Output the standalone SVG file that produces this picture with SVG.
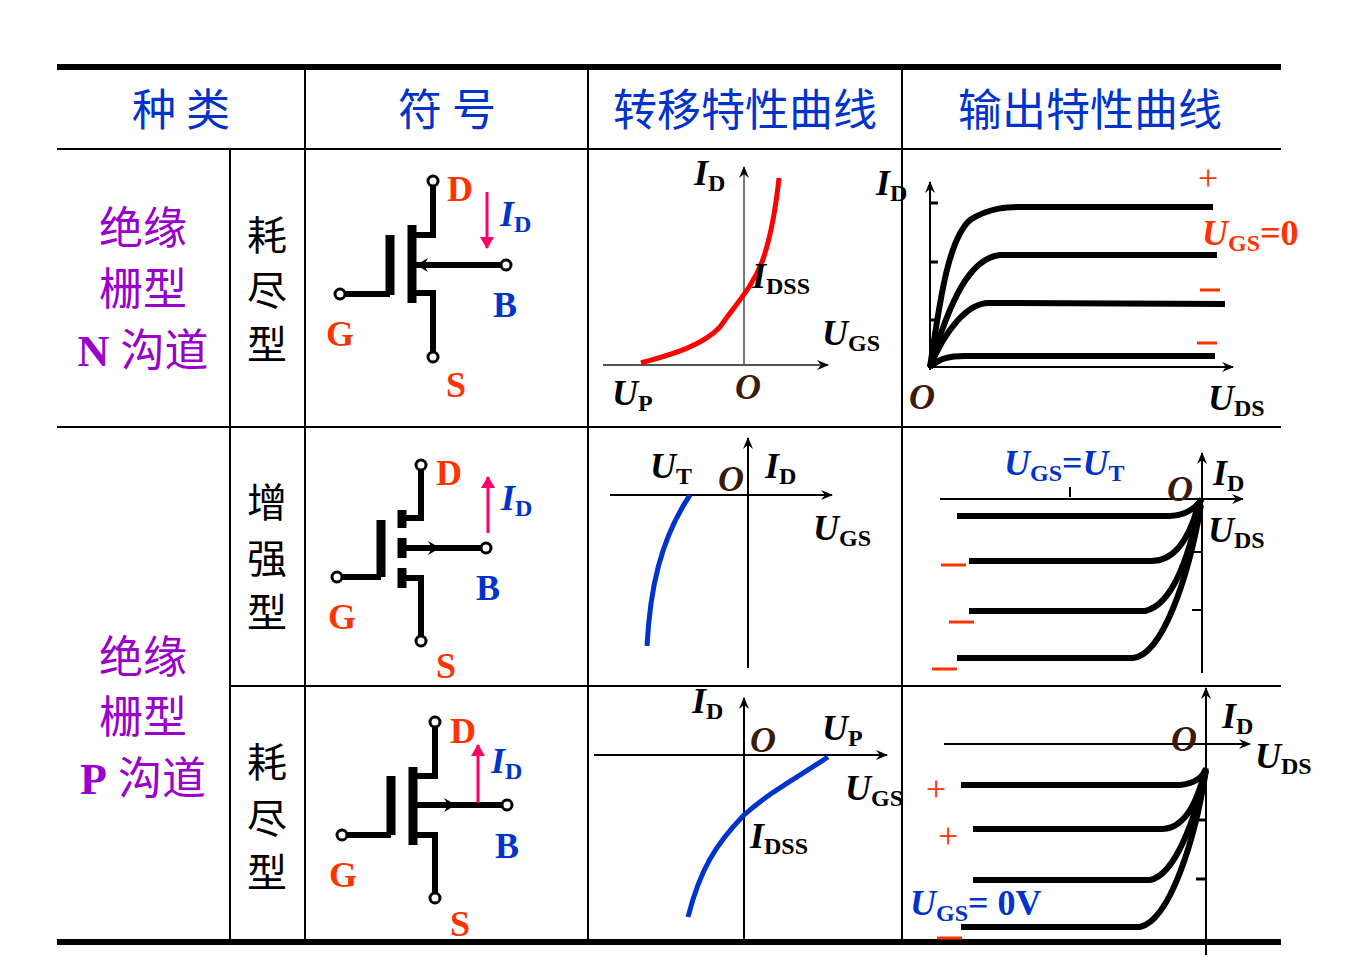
<svg xmlns="http://www.w3.org/2000/svg" width="1345" height="968" viewBox="0 0 1345 968">
<style>
.hd{font-family:"Noto Sans CJK SC",sans-serif;font-size:44px;fill:#0033cc;text-anchor:middle}
.cat{font-family:"Liberation Serif","Noto Sans CJK SC",serif;font-size:44px;fill:#9900cc;text-anchor:middle}
.typ{font-family:"Noto Sans CJK SC",sans-serif;font-size:40px;fill:#000;text-anchor:middle}
.t{font-family:"Liberation Serif",serif;font-weight:bold;font-size:36px}
.i{font-style:italic}
.s{font-size:24px;font-style:normal}
.r{fill:#ff3300}.b{fill:#0033cc}.k{fill:#000}.o{fill:#3a1a0a}
.w{stroke:#000;stroke-width:6;fill:none}
.bar{stroke:#000;stroke-width:9;fill:none}
.pin{fill:#fff;stroke:#000;stroke-width:3}
.ax{stroke:#000;stroke-width:2;fill:none}
.cv{stroke:#000;stroke-width:6;fill:none}
.rl{stroke:#ff3300;stroke-width:3}
</style>
<defs>
<marker id="ah" markerWidth="12" markerHeight="10" refX="11" refY="5" orient="auto" markerUnits="userSpaceOnUse"><path d="M0,0 L12,5 L0,10 L4,5 Z" fill="#000"/></marker>
<marker id="pa" markerWidth="12" markerHeight="14" refX="11" refY="7" orient="auto" markerUnits="userSpaceOnUse"><path d="M0,0 L12,7 L0,14 Z" fill="#ff0066"/></marker>
</defs>
<rect width="1345" height="968" fill="#fff"/>
<g id="table" stroke="#000">
<line x1="57" y1="67" x2="1281" y2="67" stroke-width="6"/>
<line x1="57" y1="149" x2="1281" y2="149" stroke-width="2"/>
<line x1="57" y1="427" x2="1281" y2="427" stroke-width="2"/>
<line x1="230" y1="686" x2="1281" y2="686" stroke-width="2"/>
<line x1="57" y1="942" x2="1281" y2="942" stroke-width="6"/>
<line x1="305" y1="67" x2="305" y2="942" stroke-width="2"/>
<line x1="588" y1="67" x2="588" y2="942" stroke-width="2"/>
<line x1="902" y1="67" x2="902" y2="942" stroke-width="2"/>
<line x1="230" y1="149" x2="230" y2="942" stroke-width="2"/>
</g>
<g id="headers">
<text class="hd" x="181" y="126">种 类</text>
<text class="hd" x="447" y="126">符 号</text>
<text class="hd" x="745" y="126">转移特性曲线</text>
<text class="hd" x="1090" y="126">输出特性曲线</text>
</g>
<g id="categories">
<text class="cat" x="143" y="244">绝缘</text>
<text class="cat" x="143" y="305">栅型</text>
<text class="cat" x="143" y="366"><tspan font-weight="bold">N</tspan> 沟道</text>
<text class="cat" x="143" y="673">绝缘</text>
<text class="cat" x="143" y="733">栅型</text>
<text class="cat" x="143" y="794"><tspan font-weight="bold">P</tspan> 沟道</text>
<text class="typ" x="267" y="250">耗</text><text class="typ" x="267" y="305">尽</text><text class="typ" x="267" y="359">型</text>
<text class="typ" x="267" y="517">增</text><text class="typ" x="267" y="573">强</text><text class="typ" x="267" y="627">型</text>
<text class="typ" x="267" y="777">耗</text><text class="typ" x="267" y="833">尽</text><text class="typ" x="267" y="887">型</text>
</g>
<g id="sym1">
<path class="w" d="M433,185 V235 H412 M412,293 H433 V353 M344,294 H390 M506,265 H416"/>
<path class="bar" d="M412,225 V303 M390,235 V295"/>
<path d="M416,265 L428,258 L424,265 L428,272 Z" fill="#000"/>
<circle class="pin" cx="433" cy="181" r="5"/><circle class="pin" cx="340" cy="294" r="5"/><circle class="pin" cx="433" cy="357" r="5"/><circle class="pin" cx="506" cy="265" r="5"/>
<line x1="487" y1="192" x2="487" y2="248" stroke="#ff0066" stroke-width="3" marker-end="url(#pa)"/>
<text class="t r" x="447" y="201">D</text>
<text class="t b i" x="500" y="226">I<tspan class="s" dy="6">D</tspan></text>
<text class="t b" x="493" y="317">B</text>
<text class="t r" x="326" y="346">G</text>
<text class="t r" x="446" y="397" font-size="42">S</text>
</g>
<g id="sym2">
<path class="w" d="M421,469 V518 H402 M402,578 H421 V637 M341,577 H381 M402,548 H482"/>
<path class="bar" d="M402,510 V528 M402,538 V558 M402,568 V588 M381,520 V577"/>
<path d="M440,548 L428,541 L432,548 L428,555 Z" fill="#000"/>
<circle class="pin" cx="421" cy="465" r="5"/><circle class="pin" cx="337" cy="577" r="5"/><circle class="pin" cx="421" cy="641" r="5"/><circle class="pin" cx="486" cy="548" r="5"/>
<line x1="488" y1="533" x2="488" y2="477" stroke="#ff0066" stroke-width="3" marker-end="url(#pa)"/>
<text class="t r" x="436" y="485">D</text>
<text class="t b i" x="501" y="510">I<tspan class="s" dy="6">D</tspan></text>
<text class="t b" x="476" y="600">B</text>
<text class="t r" x="328" y="629">G</text>
<text class="t r" x="436" y="678">S</text>
</g>
<g id="sym3">
<path class="w" d="M435,726 V776 H413 M413,835 H435 V894 M346,835 H391 M413,805 H503"/>
<path class="bar" d="M413,767 V845 M391,776 V835"/>
<path d="M456,805 L444,798 L448,805 L444,812 Z" fill="#000"/>
<circle class="pin" cx="435" cy="722" r="5"/><circle class="pin" cx="342" cy="835" r="5"/><circle class="pin" cx="435" cy="898" r="5"/><circle class="pin" cx="507" cy="805" r="5"/>
<line x1="478" y1="803" x2="478" y2="745" stroke="#ff0066" stroke-width="3" marker-end="url(#pa)"/>
<text class="t r" x="450" y="743">D</text>
<text class="t b i" x="491" y="773">I<tspan class="s" dy="6">D</tspan></text>
<text class="t b" x="495" y="858">B</text>
<text class="t r" x="329" y="887">G</text>
<text class="t r" x="450" y="936">S</text>
</g>
<g id="transfer1">
<line x1="744" y1="365" x2="744" y2="167" stroke="#777" stroke-width="2" marker-end="url(#ah)"/>
<line x1="603" y1="365" x2="828" y2="365" stroke="#555" stroke-width="2" marker-end="url(#ah)"/>
<path d="M641,363 C665,356 700,348 720,327 C735,305 752,288 762,262 C770,240 775,215 779,178" stroke="#ff0000" stroke-width="5" fill="none"/>
<text class="t k i" x="694" y="185">I<tspan class="s" dy="6">D</tspan></text>
<text class="t k i" x="752" y="288">I<tspan class="s" dy="6">DSS</tspan></text>
<text class="t k i" x="822" y="345">U<tspan class="s" dy="6">GS</tspan></text>
<text class="t k i" x="612" y="405">U<tspan class="s" dy="6">P</tspan></text>
<text class="t o i" x="735" y="399">O</text>
</g>
<g id="transfer2">
<line x1="748" y1="668" x2="748" y2="438" stroke="#000" stroke-width="2" marker-end="url(#ah)"/>
<line x1="610" y1="495" x2="832" y2="495" stroke="#000" stroke-width="2" marker-end="url(#ah)"/>
<path d="M647,646 C650,590 660,540 690,495" stroke="#0033cc" stroke-width="5" fill="none"/>
<text class="t k i" x="650" y="478">U<tspan class="s" dy="6">T</tspan></text>
<text class="t o i" x="718" y="491">O</text>
<text class="t k i" x="765" y="478">I<tspan class="s" dy="6">D</tspan></text>
<text class="t k i" x="813" y="540">U<tspan class="s" dy="6">GS</tspan></text>
</g>
<g id="transfer3">
<line x1="744" y1="940" x2="744" y2="698" stroke="#000" stroke-width="2" marker-end="url(#ah)"/>
<line x1="594" y1="755" x2="887" y2="755" stroke="#000" stroke-width="2" marker-end="url(#ah)"/>
<path d="M688,917 C700,870 715,845 744,815 C770,792 790,782 828,757" stroke="#0033cc" stroke-width="5" fill="none"/>
<text class="t k i" x="692" y="713">I<tspan class="s" dy="6">D</tspan></text>
<text class="t o i" x="750" y="752">O</text>
<text class="t k i" x="822" y="740">U<tspan class="s" dy="6">P</tspan></text>
<text class="t k i" x="845" y="800">U<tspan class="s" dy="6">GS</tspan></text>
<text class="t k i" x="750" y="848">I<tspan class="s" dy="6">DSS</tspan></text>
</g>
<g id="output1">
<line x1="930" y1="370" x2="930" y2="182" class="ax" marker-end="url(#ah)"/>
<line x1="928" y1="367" x2="1233" y2="367" class="ax" marker-end="url(#ah)"/>
<path d="M930,203 H938 M930,262 H938 M930,320 H938" stroke="#000" stroke-width="3"/>
<path class="cv" d="M930,367 C940,300 948,240 970,220 C990,207 1010,207 1020,207 L1213,207"/>
<path class="cv" d="M930,367 C950,300 970,258 1000,255 L1217,255"/>
<path class="cv" d="M930,367 C945,330 968,302 990,303 L1225,304"/>
<path class="cv" d="M930,367 C940,358 950,356 965,356 L1215,356"/>
<text class="t k i" x="876" y="195">I<tspan class="s" dy="6">D</tspan></text>
<text class="t r" x="1198" y="190" style="font-weight:normal">+</text>
<text class="t r i" x="1202" y="245">U<tspan class="s" dy="6">GS</tspan><tspan dy="-6" style="font-style:normal">=0</tspan></text>
<line x1="1200" y1="290" x2="1220" y2="290" class="rl"/>
<line x1="1197" y1="343" x2="1217" y2="343" class="rl"/>
<text class="t o i" x="909" y="409">O</text>
<text class="t k i" x="1208" y="410">U<tspan class="s" dy="6">DS</tspan></text>
</g>
<g id="output2">
<line x1="1202" y1="673" x2="1202" y2="453" class="ax" marker-end="url(#ah)"/>
<line x1="940" y1="499" x2="1243" y2="499" class="ax" marker-end="url(#ah)"/>
<path d="M1192,552 H1202 M1192,610 H1202 M1070,487 V497" stroke="#000" stroke-width="2"/>
<path class="cv" d="M957,516 L1170,516 C1190,515 1198,505 1202,499"/>
<path class="cv" d="M969,561 L1150,561 C1178,562 1192,530 1199,502"/>
<path class="cv" d="M969,611 L1145,611 C1172,605 1188,560 1200,505"/>
<path class="cv" d="M957,658 L1133,658 C1162,655 1188,580 1201,505"/>
<text class="t b i" x="1004" y="475">U<tspan class="s" dy="6">GS</tspan><tspan dy="-6" style="font-style:normal">=</tspan>U<tspan class="s" dy="6">T</tspan></text>
<text class="t o i" x="1167" y="501">O</text>
<text class="t k i" x="1213" y="485">I<tspan class="s" dy="6">D</tspan></text>
<text class="t k i" x="1208" y="542">U<tspan class="s" dy="6">DS</tspan></text>
<line x1="941" y1="565" x2="966" y2="565" class="rl"/>
<line x1="949" y1="622" x2="974" y2="622" class="rl"/>
<line x1="932" y1="669" x2="957" y2="669" class="rl"/>
</g>
<g id="output3">
<line x1="1206" y1="955" x2="1206" y2="688" class="ax" marker-end="url(#ah)"/>
<line x1="944" y1="744" x2="1250" y2="744" class="ax" marker-end="url(#ah)"/>
<path d="M1196,820 H1206 M1196,879 H1206" stroke="#000" stroke-width="3"/>
<path class="cv" d="M961,785 L1180,785 C1198,783 1204,775 1206,768"/>
<path class="cv" d="M973,829 L1160,829 C1185,830 1198,800 1205,770"/>
<path class="cv" d="M973,880 L1150,880 C1175,875 1195,820 1206,770"/>
<path class="cv" d="M961,927 L1140,927 C1170,920 1195,840 1206,770"/>
<text class="t o i" x="1171" y="751">O</text>
<text class="t k i" x="1222" y="728">I<tspan class="s" dy="6">D</tspan></text>
<text class="t k i" x="1255" y="768">U<tspan class="s" dy="6">DS</tspan></text>
<text class="t r" x="926" y="801" style="font-weight:normal">+</text>
<text class="t r" x="938" y="848" style="font-weight:normal">+</text>
<text class="t b i" x="910" y="915">U<tspan class="s" dy="6">GS</tspan><tspan dy="-6" style="font-style:normal">= 0V</tspan></text>
<line x1="937" y1="938" x2="962" y2="938" class="rl"/>
</g>
</svg>
